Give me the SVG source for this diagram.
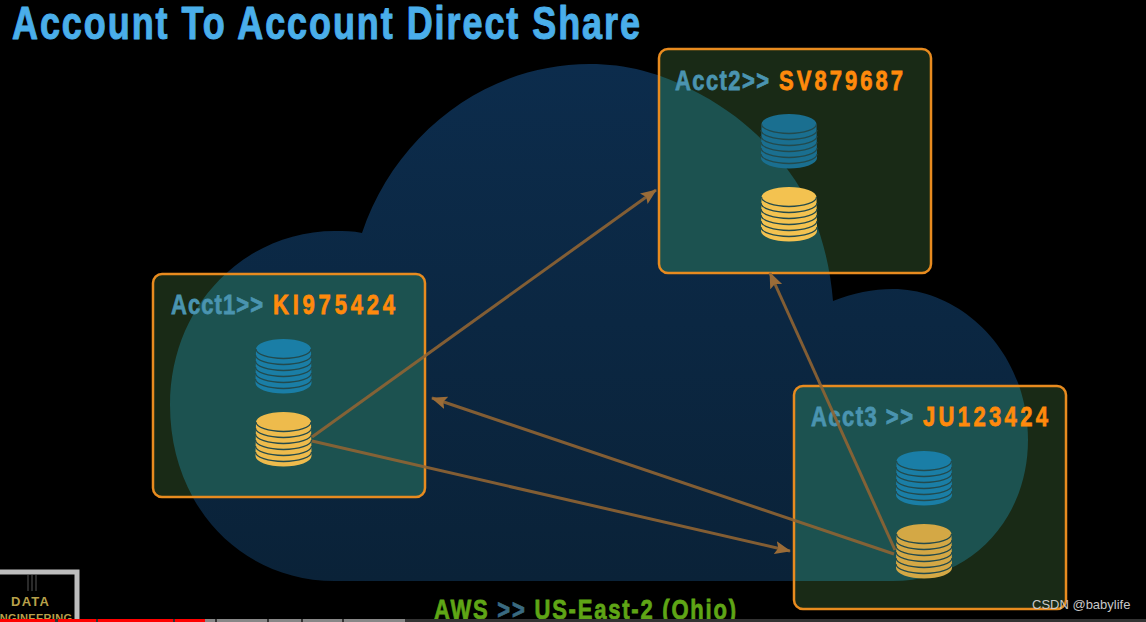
<svg xmlns="http://www.w3.org/2000/svg" width="1146" height="622" viewBox="0 0 1146 622">
<style>
text{font-family:"Liberation Sans",Arial,sans-serif;font-weight:700}
.thick{stroke-linejoin:round;stroke-linecap:round}
.box{fill:#192a16}
.frame{fill:none;stroke:#e88b1f;stroke-width:2.5}
.acct{font-size:22px;fill:#4a94b0;stroke:#4a94b0;stroke-width:.6px}
.id{font-size:22px;fill:#ff8a0c;stroke:#ff8a0c;stroke-width:.6px}
.conn{fill:none;stroke:#8f6433;stroke-width:3;stroke-opacity:.9;marker-end:url(#arr)}
.ln{fill:none;stroke:#234a4c;stroke-width:1.300}
</style>
<defs>
<linearGradient id="cg" x1="0" y1="0" x2="0" y2="1"><stop offset="0" stop-color="#0c2c4c"/><stop offset="1" stop-color="#0a2238"/></linearGradient>
<marker id="arr" markerWidth="18" markerHeight="14" refX="15" refY="6.500" orient="auto" markerUnits="userSpaceOnUse"><path d="M0 0L16 6.500L0 13L3 6.500Z" fill="#9a6c38"/></marker>
<path id="cloud" d="M335 581C240 581 170 505 170 405C170 305 245 231 335 231C344 231 353 231 362 233C395 135 485 64 590 64C625 64 660 72 700 94C745 118 775 150 795 180C818 215 830 262 833 301C853 293 873 289 893 289C960 289 1028 350 1028 440C1028 520 970 581 893 581Z"/>
<clipPath id="bc"><rect x="153" y="274" width="272" height="223" rx="9"/><rect x="659" y="49" width="272" height="224" rx="9"/><rect x="794" y="386" width="272" height="223" rx="9"/></clipPath>
<g id="stack">
<path d="M-27.500 10A27.500 10 0 0 1 27.500 10L28 44A28 10.500 0 0 1-28 44Z"/>
<path class="ln" d="M-27.500 10A27.500 9.500 0 0 0 27.500 10M-28 16A28 9.500 0 0 0 28 16M-28 22A28 9.500 0 0 0 28 22M-28 28A28 9.500 0 0 0 28 28M-28 34A28 9.500 0 0 0 28 34M-28 40A28 9.500 0 0 0 28 40"/>
</g>
</defs>
<rect width="1146" height="622" fill="#000"/>
<use id="cloud-shape" href="#cloud" fill="url(#cg)"/>
<g id="title"><text class="thick" transform="translate(12 39) scale(1 1.270)" font-size="36" fill="#4aaeea" stroke="#4aaeea" stroke-width=".8" textLength="628" lengthAdjust="spacing">Account To Account Direct Share</text></g>
<g id="acct1-box"><rect class="box" x="153" y="274" width="272" height="223" rx="9"/></g>
<g id="acct2-box"><rect class="box" x="659" y="49" width="272" height="224" rx="9"/></g>
<g id="acct3-box"><rect class="box" x="794" y="386" width="272" height="223" rx="9"/></g>
<g clip-path="url(#bc)"><use href="#cloud" fill="#1c5250"/></g>
<g id="acct1">
<rect class="frame" x="153" y="274" width="272" height="223" rx="9"/>
<text class="acct" transform="translate(171 314) scale(1 1.270)" textLength="92" lengthAdjust="spacing">Acct1&gt;&gt;</text>
<text class="id" transform="translate(273 314) scale(1 1.270)" textLength="122" lengthAdjust="spacing">KI975424</text>
<use href="#stack" x="283.500" y="339" fill="#1a7ea6"/>
<use href="#stack" x="283.500" y="412" fill="#eebb4c"/>
</g>
<g id="acct2">
<rect class="frame" x="659" y="49" width="272" height="224" rx="9"/>
<text class="acct" transform="translate(675 90) scale(1 1.270)" textLength="94" lengthAdjust="spacing">Acct2&gt;&gt;</text>
<text class="id" transform="translate(779 90) scale(1 1.270)" textLength="124" lengthAdjust="spacing">SV879687</text>
<use href="#stack" x="789" y="114" fill="#1a6f90"/>
<use href="#stack" x="789" y="187" fill="#f3c250"/>
</g>
<g id="acct3">
<rect class="frame" x="794" y="386" width="272" height="223" rx="9"/>
<text class="acct" transform="translate(811 426) scale(1 1.270)" textLength="102" lengthAdjust="spacing">Acct3 &gt;&gt;</text>
<text class="id" transform="translate(923 426) scale(1 1.270)" textLength="125" lengthAdjust="spacing">JU123424</text>
<use href="#stack" x="924" y="451" fill="#1a7ea6"/>
<use href="#stack" x="924" y="524" fill="#d4a845"/>
</g>
<g id="connectors">
<path class="conn" d="M312 437L656 190"/>
<path class="conn" d="M312 441L790 551"/>
<path class="conn" d="M894 554L432 398"/>
<path class="conn" d="M895 550L770 273"/>
</g>
<g id="footer-label"><text transform="translate(434 619) scale(1 1.270)" font-size="22" fill="#5fa516" stroke="#5fa516" stroke-width=".6" textLength="302" lengthAdjust="spacing">AWS <tspan fill="#3a6a80" stroke="#3a6a80">&gt;&gt;</tspan> US-East-2 (Ohio)</text></g>
<g id="logo">
<path d="M0 572H77V619" fill="none" stroke="#bdbdbd" stroke-width="5"/>
<path d="M28 575V591M32 575V591M36 575V591" stroke="#555" stroke-width="1"/>
<text x="11" y="606" font-size="13" fill="#b8a04a" textLength="38" lengthAdjust="spacing">DATA</text>
<text x="-8" y="622" font-size="11" fill="#b8a04a" textLength="80" lengthAdjust="spacing">ENGINEERING</text>
</g>
<g id="progress">
<rect y="619" width="1146" height="3" fill="#333"/>
<rect y="619" width="55" height="3" fill="#f00"/><rect x="58" y="619" width="38" height="3" fill="#f00"/><rect x="98" y="619" width="75" height="3" fill="#f00"/><rect x="175" y="619" width="30" height="3" fill="#f00"/>
<rect x="205" y="619" width="10" height="3" fill="#888"/><rect x="217" y="619" width="50" height="3" fill="#888"/><rect x="269" y="619" width="32" height="3" fill="#888"/><rect x="303" y="619" width="39" height="3" fill="#888"/><rect x="344" y="619" width="61" height="3" fill="#888"/>
</g>
<text x="1032" y="609" font-size="13" fill="#c8c8c8" style="font-weight:400">CSDN @babylife</text>
</svg>
